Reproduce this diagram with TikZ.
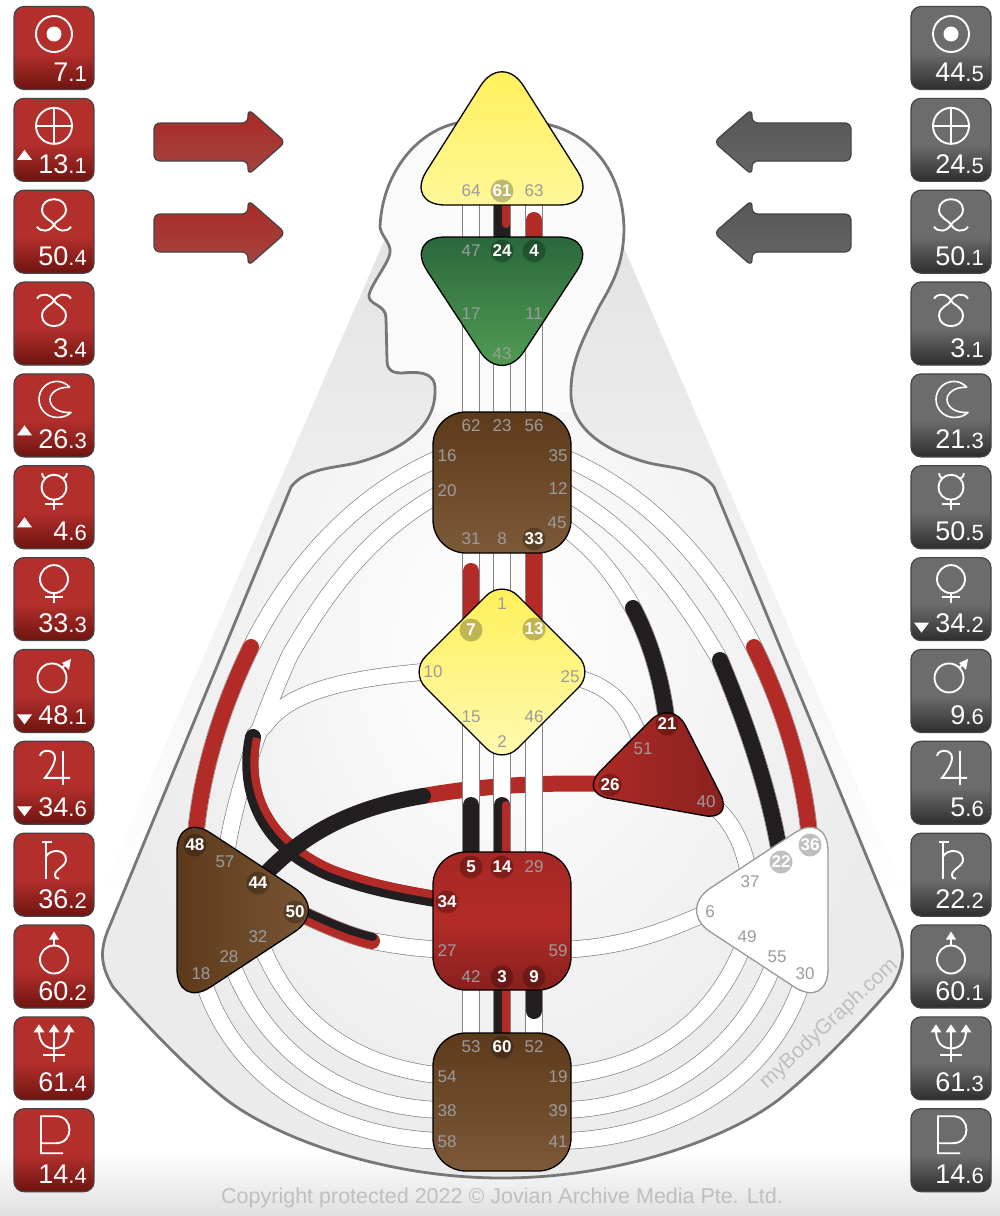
\documentclass[tikz,border=0pt]{standalone}
\usepackage{fontspec}
\setmainfont{Liberation Sans}
\usetikzlibrary{arrows}

\definecolor{chanred}{HTML}{B32B27}
\definecolor{chanblack}{HTML}{231F20}
\definecolor{chanline}{HTML}{858585}
\definecolor{boxred}{HTML}{B22F2C}
\definecolor{boxreddark}{HTML}{6E1410}
\definecolor{boxgrey}{HTML}{6C6C6C}
\definecolor{boxgreydark}{HTML}{2E2E2E}
\definecolor{boxedge}{HTML}{444444}
\definecolor{gatetext}{HTML}{9C9C9C}
\definecolor{bodyline}{HTML}{777777}
\definecolor{headtop}{HTML}{FFF050}
\definecolor{headbot}{HTML}{FFF79A}
\definecolor{gtop}{HTML}{FFF055}
\definecolor{gbot}{HTML}{FFF9B4}
\definecolor{ajnatop}{HTML}{2A683C}
\definecolor{ajnabot}{HTML}{57A357}
\definecolor{browndark}{HTML}{5C3A1B}
\definecolor{brownlight}{HTML}{7C5A38}

\pgfdeclareverticalshading{redbox}{100bp}{color(0bp)=(boxreddark); color(25bp)=(boxreddark); color(47bp)=(boxred); color(100bp)=(boxred)}
\pgfdeclareverticalshading{greybox}{100bp}{color(0bp)=(boxgreydark); color(25bp)=(boxgreydark); color(47bp)=(boxgrey); color(100bp)=(boxgrey)}

\tikzset{
  channel/.style={draw=chanline, line width=0.7pt, double=white, double distance=16pt},
  chanedge/.style={draw=chanline, line width=17.4pt},
  chanfill/.style={draw=white, line width=16pt},
  redband/.style={draw=chanred, line width=16pt},
  blackband/.style={draw=chanblack, line width=16pt},
  redhalf/.style={draw=chanred, line width=8pt},
  blackhalf/.style={draw=chanblack, line width=8pt},
  center/.style={draw=black, line width=1.3pt},
  gate/.style={text=gatetext, inner sep=0pt, yshift=-1pt, font=\fontsize{17}{17}\selectfont},
  gateon/.style={circle, fill=black, fill opacity=0.25, text opacity=1, text=white, inner sep=0pt, minimum size=23pt, yshift=-1pt, font=\fontsize{17}{17}\selectfont\bfseries},
  redplanet/.style={rectangle, rounded corners=10pt, draw=boxedge, line width=1.2pt, minimum width=80pt, minimum height=83pt, shading=redbox},
  greyplanet/.style={rectangle, rounded corners=10pt, draw=boxedge, line width=1.2pt, minimum width=80pt, minimum height=83pt, shading=greybox},
  planetval/.style={anchor=base east, inner sep=0pt, text=white, font=\fontsize{27}{27}\selectfont},
  sym/.style={draw=white, line width=1.9pt},
  bigarrow/.style={line width=1.2pt, draw=boxedge, rounded corners=6pt}
}

\newcommand{\tailfig}[1]{{\fontsize{22}{22}\selectfont.#1}}
\newcommand{\sunsym}{\draw[sym] (0,0) circle (18); \fill[white] (0,0) circle (7.5);}
\newcommand{\earthsym}{\draw[sym] (0,0) circle (18); \draw[sym] (-18,0) -- (18,0); \draw[sym] (0,-18) -- (0,18);}
\newcommand{\nodesym}{
  \draw[sym] (-17,11) .. controls (-13,17) and (-4,16) .. (0,9) .. controls (4,16) and (13,17) .. (17,11);
  \draw[sym] (0,9) .. controls (-1,5) and (-12,3) .. (-12,-6) .. controls (-12,-20) and (12,-20) .. (12,-6) .. controls (12,3) and (1,5) .. (0,9);}
\newcommand{\northsym}{\begin{scope}[yshift=2pt]\nodesym\end{scope}}
\newcommand{\southsym}{\begin{scope}[yscale=-1]\nodesym\end{scope}}
\newcommand{\moonsym}{
  \draw[sym, line width=1.6pt, line join=round] (16,-14) .. controls (12,-18) and (8,-20) .. (3,-20) .. controls (-7,-20) and (-15,-12) .. (-15,-2)
    .. controls (-15,8) and (-7,16) .. (3,16) .. controls (8,16) and (13,15) .. (17,11)
    .. controls (5,12) and (-4,6) .. (-4,-2) .. controls (-4,-9) and (5,-15) .. (16,-14);}
\newcommand{\mercurysym}{
  \draw[sym] (0,-6) circle (12.5);
  \draw[sym] (-12,-20) .. controls (-11,-16) and (-10,-15) .. (-8,-15);
  \draw[sym] (13,-20) .. controls (12,-16) and (11,-15) .. (9,-15);
  \draw[sym] (0,7) -- (0,17); \draw[sym] (-9,11) -- (9,11);}
\newcommand{\venussym}{
  \draw[sym] (0,-6) circle (14);
  \draw[sym] (0,8) -- (0,18); \draw[sym] (-9,12) -- (9,12);}
\newcommand{\marssym}{
  \draw[sym] (-2,1) circle (14.5);
  \draw[sym] (8,-9) -- (14,-15);
  \fill[white] (8,-14) -- (17,-18) -- (15,-7) -- cycle;}
\newcommand{\jupitersym}{
  \draw[sym] (-14,-13) .. controls (-13,-20) and (1,-20) .. (1,-11) .. controls (1,-5) and (-5,4) .. (-9,9) -- (16,9);
  \draw[sym] (9,-18) -- (9,16);}
\newcommand{\saturnsym}{
  \draw[sym] (-12,-19) -- (-2,-19); \draw[sym] (-8,-19) -- (-8,18);
  \draw[sym] (-8,-4) .. controls (-4,-12) and (12,-12) .. (12,-1) .. controls (12,6) and (0,9) .. (1,15) .. controls (1,17) and (3,18) .. (5,18);}
\newcommand{\uranussym}{
  \draw[sym] (0,7) circle (14); \draw[sym] (0,-7) -- (0,-14);
  \fill[white] (0,-21) -- (5,-13) -- (-5,-13) -- cycle;}
\newcommand{\neptunesym}{
  \draw[sym] (0,-14) -- (0,18); \draw[sym] (-11,11) -- (11,11);
  \draw[sym] (-15,-14) .. controls (-15,-2) and (-9,4) .. (0,4) .. controls (9,4) and (15,-2) .. (15,-14);
  \fill[white] (0,-20) -- (5.5,-12) -- (-5.5,-12) -- cycle;
  \fill[white] (-15,-20) -- (-9.5,-12) -- (-20.5,-12) -- cycle;
  \fill[white] (15,-20) -- (20.5,-12) -- (9.5,-12) -- cycle;}
\newcommand{\plutosym}{
  \draw[sym] (9,17) -- (-13,17) -- (-13,-20) -- (2,-20) .. controls (20,-20) and (20,7) .. (2,7) -- (-13,7);}

\begin{document}
\begin{tikzpicture}[x=1pt,y=-1pt]
  \useasboundingbox (0,0) rectangle (1000,1216);
  \fill[white] (0,0) rectangle (1000,1216);
  \shade[top color=white, bottom color=black!12] (0,1150) rectangle (1000,1216);

  \shade[top color=black!11, bottom color=white] (388,232) -- (617,232) -- (907,900) -- (98,900) -- cycle;
  \def\bodypath{(457,123) .. controls (415,132) and (382,175) .. (380,227) .. controls (381,236) and (391,243) .. (390,252)
    .. controls (390,262) and (368,288) .. (369,297) .. controls (370,305) and (386,305) .. (386,318) -- (387,360)
    .. controls (387,370) and (392,373) .. (402,373) .. controls (415,372) and (436,370) .. (435,390)
    .. controls (436,425) and (405,450) .. (356,463) .. controls (335,468) and (305,468) .. (291,487)
    -- (108,930) .. controls (100,950) and (100,965) .. (113,987) .. controls (150,1030) and (190,1070) .. (223,1097)
    .. controls (270,1135) and (380,1178) .. (502,1178) .. controls (625,1178) and (735,1135) .. (782,1097)
    .. controls (815,1070) and (855,1030) .. (892,987) .. controls (905,965) and (905,950) .. (897,930) -- (714,487)
    .. controls (700,468) and (670,468) .. (649,463) .. controls (600,450) and (569,425) .. (571,390)
    .. controls (571,360) and (585,335) .. (600,305) .. controls (615,280) and (624,260) .. (624,227)
    .. controls (622,170) and (590,135) .. (550,125) .. controls (530,118) and (490,116) .. (457,123) -- cycle}
  \shade[inner color=white, outer color=black!8] \bodypath;
  \begin{scope}
    \clip \bodypath;
    \fill[black!2] (360,100) rectangle (640,412);
  \end{scope}
  \draw[bodyline, line width=2.8pt] \bodypath;

  \foreach \g/\x/\y in {64/471/190,61/502/190,63/534/190,47/471/250,24/502/250,4/534/250,17/471/313,11/534/313,43/502/353,
    62/471/425,23/502/425,56/534/425,16/447/455,35/558/455,20/447/490,12/558/488,45/557/522,31/471/538,8/502/538,33/534/538,
    1/502/603,7/471/629,13/534/628,10/433/671,25/570/676,15/471/716,46/534/716,2/502/741,
    5/471/866,14/502/866,29/534/866,34/447/901,27/447/950,59/558/950,42/471/976,3/502/976,9/534/976,
    53/471/1046,60/502/1046,52/534/1046,54/447/1076,19/558/1076,38/447/1110,39/558/1110,58/447/1141,41/558/1141,
    48/195/844,57/225/861,44/258/882,50/295/911,32/258/936,28/229/956,18/201/973,
    36/810/844,22/781/861,37/750/881,6/710/911,49/747/936,55/777/956,30/805/973,
    21/667/723,51/643/748,26/610/784,40/706/801}
    \coordinate (g\g) at (\x,\y);

  \coordinate (c48) at (251,647);
  \coordinate (c36) at (754,647);
  \coordinate (c22) at (720,660);
  \coordinate (c21) at (633,608);
  \coordinate (c34) at (253,737);
  \coordinate (c50) at (372,941);
  \coordinate (c44) at (423,796);
  \coordinate (c61) at (502,224);
  \coordinate (c4) at (534,220);
  \coordinate (c7) at (471,571);
  \coordinate (c5) at (471,805);
  \coordinate (c14) at (502,805);
  \coordinate (c9) at (534,1011);

  \draw[channel] (g19) .. controls (633,1070) and (712,1035) .. (g49);
  \draw[channel] (g39) .. controls (650,1110) and (740,1060) .. (g55);
  \draw[channel] (g41) .. controls (665,1140) and (773,1085) .. (g30);
  \draw[channel] (g54) .. controls (372,1070) and (293,1035) .. (g32);
  \draw[channel] (g38) .. controls (355,1110) and (265,1060) .. (g28);
  \draw[channel] (g58) .. controls (340,1140) and (232,1085) .. (g18);
  \draw[channel] (g16) .. controls (360,490) and (295,560) .. (c48) .. controls (225,700) and (200,770) .. (g48);
  \draw[channel] (g35) .. controls (645,490) and (710,560) .. (c36) .. controls (780,700) and (805,770) .. (g36);
  \draw[channel] (g12) .. controls (635,530) and (682,595) .. (c22) .. controls (745,720) and (770,790) .. (g22);
  \draw[channel] (g45) .. controls (590,545) and (612,570) .. (c21) .. controls (650,640) and (662,680) .. (g21);
  \draw[chanedge] (g20) .. controls (370,530) and (325,595) .. (290,655) .. controls (265,710) and (235,790) .. (g57);
  \draw[chanedge] (g10) .. controls (350,678) and (290,690) .. (265,725) -- (c34);
  \draw[chanfill] (g20) .. controls (370,530) and (325,595) .. (290,655) .. controls (265,710) and (235,790) .. (g57);
  \draw[chanfill] (g10) .. controls (350,678) and (290,690) .. (265,725) -- (c34);
  \draw[channel] (g25) .. controls (610,685) and (630,705) .. (g51);
  \draw[channel] (g40) .. controls (730,815) and (745,845) .. (g37);
  \draw[channel] (g59) .. controls (620,948) and (665,932) .. (g6);
  \draw[channel] (g27) .. controls (410,948) and (395,945) .. (c50) .. controls (350,936) and (325,925) .. (g50);

  \draw[redband, line cap=round] (c48) .. controls (225,700) and (200,770) .. (g48);
  \draw[redband, line cap=round] (c36) .. controls (780,700) and (805,770) .. (g36);
  \draw[blackband, line cap=round] (c22) .. controls (745,720) and (770,790) .. (g22);
  \draw[blackband, line cap=round] (c21) .. controls (650,640) and (662,680) .. (g21);
  \draw[blackband, line cap=round] (c34) .. controls (245,775) and (250,840) .. (330,873) .. controls (370,888) and (400,893) .. (g34);
  \draw[redhalf] (257,738) .. controls (249,775) and (255,835) .. (332,869) .. controls (372,884) and (402,889) .. (447,897);
  \draw[redband, line cap=round] (c50) .. controls (350,936) and (325,925) .. (g50);
  \draw[blackhalf, line cap=round] (373,937) .. controls (350,932) and (325,921) .. (296,907);
  \draw[redband] (g26) .. controls (540,782) and (480,786) .. (c44);
  \draw[blackband, line cap=round] (c44) .. controls (350,808) and (300,835) .. (g44);

  \foreach \x in {471,502,534} {
    \draw[channel] (\x,190) -- (\x,250);
    \draw[channel] (\x,313) -- (\x,425);
    \draw[channel] (\x,538) -- (\x,629);
    \draw[channel] (\x,716) -- (\x,866);
    \draw[channel] (\x,976) -- (\x,1046);
  }

  \draw[blackband] (g61) -- (g24);
  \draw[redhalf, line cap=round] ([xshift=4pt]g61) -- ([xshift=4pt]c61);
  \draw[redband, line cap=round] (g4) -- (c4);
  \draw[redband, line cap=round] (g7) -- (c7);
  \draw[redband] (g33) -- (g13);
  \draw[blackband, line cap=round] (g5) -- (c5);
  \draw[blackband, line cap=round] (g14) -- (c14);
  \draw[redhalf, line cap=round] ([xshift=4pt]g14) -- ([xshift=4pt]c14);
  \draw[blackband] (g3) -- (g60);
  \draw[redhalf] ([xshift=4pt]g3) -- ([xshift=4pt]g60);
  \draw[blackband, line cap=round] (g9) -- (c9);

  \shade[center, top color=headtop, bottom color=headbot, rounded corners=40pt] (502,205) -- (599,205) -- (502,52) -- (405,205) -- cycle;
  \shade[center, top color=ajnatop, bottom color=ajnabot, rounded corners=40pt] (502,237) -- (599,237) -- (502,385) -- (405,237) -- cycle;
  \shade[center, top color=browndark, bottom color=brownlight, rounded corners=33pt] (433,412) rectangle (571,553);
  \shade[center, top color=gtop, bottom color=gbot, rounded corners=22pt] (456,626) -- (502,580) -- (594,672) -- (502,764) -- (410,672) -- cycle;
  \shade[center, left color=chanred!100!white, right color=chanred!75!black, rounded corners=30pt] (625,746) -- (672,699) -- (734,821) -- (579,793) -- cycle;
  \shade[center, top color=chanred!92!black, bottom color=chanred!75!black, middle color=chanred, rounded corners=33pt] (433,852) rectangle (571,990);
  \shade[center, top color=browndark, bottom color=brownlight, rounded corners=33pt] (433,1033) rectangle (571,1171);
  \shade[center, left color=browndark, right color=brownlight, rounded corners=40pt] (177,910) -- (177,811) -- (328,910) -- (177,1009) -- cycle;
  \filldraw[fill=white, draw=black!40, line width=1.3pt, rounded corners=40pt] (828,910) -- (828,811) -- (677,910) -- (828,1009) -- cycle;

  \foreach \g in {64,63,47,17,11,43,62,23,56,16,35,20,12,45,31,8,1,10,25,15,46,2,29,27,59,42,53,52,54,19,38,39,58,41,57,32,28,18,37,6,49,55,30,51,40}
    \node[gate] (n\g) at (g\g) {\g};
  \foreach \g in {61,24,4,33,7,13,5,14,34,3,9,60,48,44,50,36,22,21,26}
    \node[gateon] (n\g) at (g\g) {\g};

  \foreach \i/\symb/\lv/\lf/\rv/\rf in {0/sunsym/7/1/44/5,1/earthsym/13/1/24/5,2/northsym/50/4/50/1,3/southsym/3/4/3/1,
    4/moonsym/26/3/21/3,5/mercurysym/4/6/50/5,6/venussym/33/3/34/2,7/marssym/48/1/9/6,8/jupitersym/34/6/5/6,
    9/saturnsym/36/2/22/2,10/uranussym/60/2/60/1,11/neptunesym/61/4/61/3,12/plutosym/14/4/14/6} {
    \pgfmathsetmacro{\yc}{48+91.85*\i}
    \node[redplanet] (lbox\i) at (54,\yc) {};
    \node[greyplanet] (rbox\i) at (951,\yc) {};
    \begin{scope}[shift={(54,\yc-14)}]\csname\symb\endcsname\end{scope}
    \begin{scope}[shift={(951,\yc-14)}]\csname\symb\endcsname\end{scope}
    \node[planetval] (lval\i) at (87,\yc+33.5) {\lv\tailfig{\lf}};
    \node[planetval] (rval\i) at (984,\yc+33.5) {\rv\tailfig{\rf}};
  }

  \foreach \i in {1,4,5} {
    \pgfmathsetmacro{\yc}{48+91.85*\i}
    \fill[white] (17,\yc+20) -- (32,\yc+20) -- (24.5,\yc+10) -- cycle;
  }
  \foreach \i in {7,8} {
    \pgfmathsetmacro{\yc}{48+91.85*\i}
    \fill[white] (17,\yc+23.5) -- (32,\yc+23.5) -- (24.5,\yc+33.5) -- cycle;
  }
  \pgfmathsetmacro{\yc}{48+91.85*6}
  \fill[white] (914,\yc+23.5) -- (929,\yc+23.5) -- (921.5,\yc+33.5) -- cycle;

  \foreach \y in {142,233} {
    \shade[bigarrow, top color=chanred!95!black, bottom color=chanred!70!gray] (200,\y-19) -- (248,\y-19) -- (248,\y-33) -- (285.5,\y) -- (248,\y+33) -- (248,\y+19) -- (154,\y+19) -- (154,\y-19) -- cycle;
    \shade[bigarrow, top color=black!66, bottom color=black!60] (800,\y-19) -- (752,\y-19) -- (752,\y-33) -- (714,\y) -- (752,\y+33) -- (752,\y+19) -- (851,\y+19) -- (851,\y-19) -- cycle;
  }

  \node[text=black!25, font=\fontsize{21.5}{21.5}\selectfont] (copyright) at (502,1197.5) {Copyright protected 2022 © Jovian Archive Media Pte. Ltd.};
  \node[text=black!25, rotate=43, font=\fontsize{21}{21}\selectfont] (site) at (829,1024) {myBodyGraph.com};
\end{tikzpicture}
\end{document}
